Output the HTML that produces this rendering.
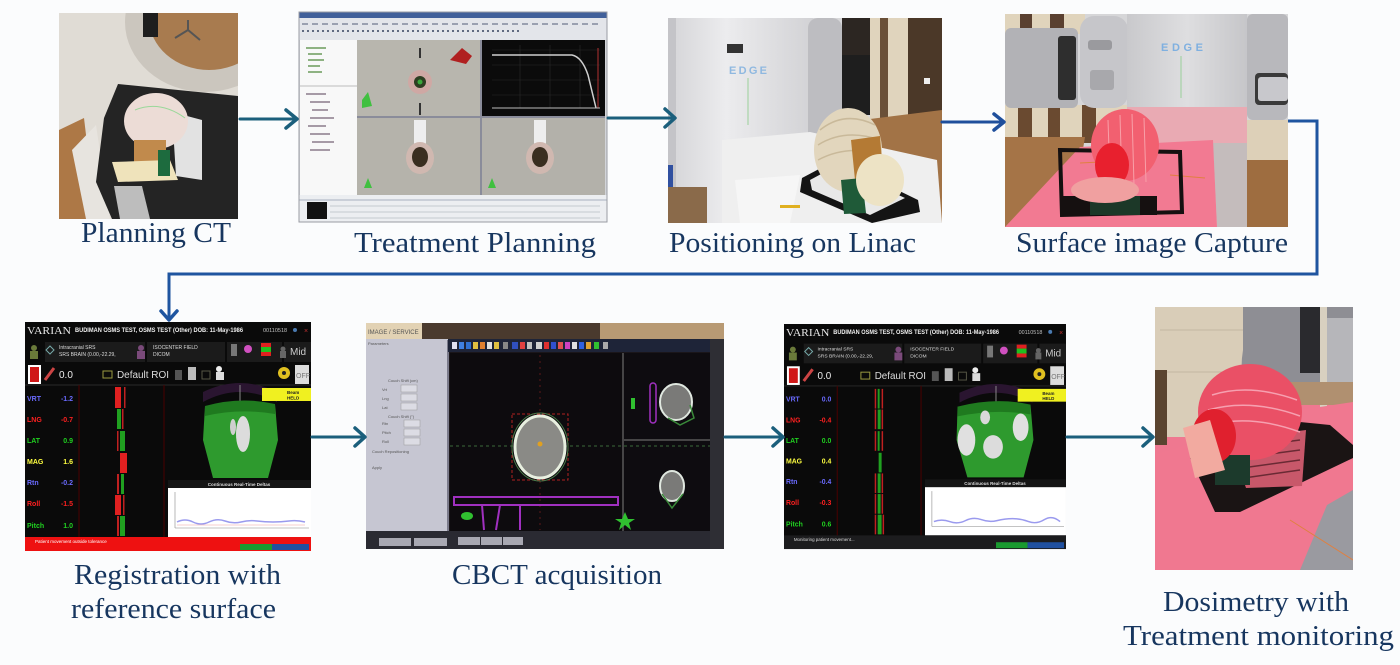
<!DOCTYPE html>
<html><head><meta charset="utf-8"><style>
html,body{margin:0;padding:0;background:#fbfcfd;}
svg{display:block;}
</style></head><body>
<svg width="1400" height="665" viewBox="0 0 1400 665" xmlns="http://www.w3.org/2000/svg">
<defs>
<clipPath id="c1"><rect x="59" y="13" width="179" height="206"/></clipPath>
<clipPath id="c2"><rect x="299" y="12" width="308" height="210"/></clipPath>
<clipPath id="c3"><rect x="668" y="18" width="274" height="205"/></clipPath>
<clipPath id="c4"><rect x="1005" y="14" width="283" height="213"/></clipPath>
<clipPath id="c5"><rect x="0" y="0" width="286" height="229"/></clipPath>
<clipPath id="c6"><rect x="366" y="323" width="358" height="226"/></clipPath>
<clipPath id="c8"><rect x="1155" y="307" width="198" height="263"/></clipPath>
<linearGradient id="g3" x1="0" x2="1" y1="0" y2="0"><stop offset="0" stop-color="#d4d4d7"/><stop offset="0.4" stop-color="#ececee"/><stop offset="1" stop-color="#d2d2d5"/></linearGradient>
<linearGradient id="g4" x1="0" x2="1" y1="0" y2="0"><stop offset="0" stop-color="#c9c9cc"/><stop offset="0.5" stop-color="#dedee0"/><stop offset="1" stop-color="#c6c6c9"/></linearGradient>
</defs>
<rect width="1400" height="665" fill="#fbfcfd"/>

<!-- ============ IMAGE 1: Planning CT ============ -->
<g clip-path="url(#c1)">
<rect x="59" y="13" width="179" height="206" fill="#e0dcd5"/>
<ellipse cx="205" cy="22" rx="80" ry="70" fill="#cbc6be"/>
<ellipse cx="209" cy="18" rx="60" ry="52" fill="#a87b4f"/>
<rect x="143" y="13" width="15" height="24" fill="#1e1e1e"/>
<path d="M175 38 L188 30 L200 40 M188 30 L188 20" stroke="#555" stroke-width="2" fill="none"/>
<polygon points="59,130 84,118 96,219 59,219" fill="#ad7846"/>
<polygon points="72,150 96,125 110,219 86,219" fill="#e7e4df"/>
<polygon points="118,84 238,96 238,219 112,219 96,182 104,118" fill="#242424"/>
<polygon points="114,186 142,186 150,219 120,219" fill="#bdbdbd"/>
<polygon points="172,112 202,120 202,180 176,176" fill="#e2e2e2"/>
<ellipse cx="156" cy="121" rx="32" ry="28" fill="#ecdcd6"/>
<path d="M135 110 Q160 100 185 118" stroke="#9ad89a" stroke-width="1" fill="none"/>
<rect x="134" y="140" width="32" height="25" fill="#c18a4c"/>
<polygon points="112,162 170,160 178,180 118,182" fill="#efe3bb"/>
<rect x="158" y="150" width="12" height="26" fill="#1d6b3e"/>
</g>

<!-- ============ IMAGE 2: Treatment Planning ============ -->
<g clip-path="url(#c2)">
<rect x="299" y="12" width="308" height="210" fill="#d2d4d8"/>
<rect x="299" y="12" width="308" height="6" fill="#41609a"/>
<rect x="299" y="18" width="308" height="22" fill="#e3e5ea"/>
<line x1="302" y1="24" x2="600" y2="24" stroke="#9aa0b0" stroke-width="2" stroke-dasharray="6 4"/>
<line x1="302" y1="31" x2="520" y2="31" stroke="#606a80" stroke-width="2" stroke-dasharray="2 3"/>
<rect x="300" y="40" width="57" height="155" fill="#f8f8f8"/>
<line x1="300" y1="86" x2="357" y2="86" stroke="#bbb"/>
<g stroke="#6a9a5a" stroke-width="1.5">
<line x1="306" y1="48" x2="326" y2="48"/><line x1="308" y1="54" x2="322" y2="54"/><line x1="308" y1="60" x2="324" y2="60"/><line x1="308" y1="66" x2="320" y2="66"/><line x1="308" y1="72" x2="322" y2="72"/>
</g>
<g stroke="#8a7a8a" stroke-width="1.5">
<line x1="306" y1="94" x2="326" y2="94"/><line x1="310" y1="102" x2="330" y2="102"/><line x1="312" y1="110" x2="328" y2="110"/><line x1="310" y1="118" x2="334" y2="118"/><line x1="308" y1="126" x2="326" y2="126"/><line x1="310" y1="134" x2="330" y2="134"/><line x1="312" y1="142" x2="334" y2="142"/><line x1="310" y1="150" x2="330" y2="150"/>
</g>
<rect x="357" y="40" width="124" height="77" fill="#b8b6ae"/>
<rect x="481" y="40" width="124" height="77" fill="#0b0b0b"/>
<rect x="357" y="117" width="124" height="78" fill="#b5b3ab"/>
<rect x="481" y="117" width="124" height="78" fill="#b3b1aa"/>
<line x1="357" y1="117" x2="605" y2="117" stroke="#8a8c9a" stroke-width="2"/>
<line x1="481" y1="40" x2="481" y2="195" stroke="#8a8c9a" stroke-width="2"/>
<circle cx="420" cy="82" r="12" fill="#cfa8a4"/>
<circle cx="420" cy="82" r="6" fill="#2e3e22"/>
<circle cx="420" cy="82" r="2.5" fill="#3aa83a"/>
<polygon points="450,60 462,48 472,56 466,64" fill="#b02020"/>
<polygon points="362,100 368,92 372,106 362,108" fill="#40c040"/>
<line x1="420" y1="48" x2="420" y2="58" stroke="#333" stroke-width="2"/>
<line x1="420" y1="103" x2="420" y2="115" stroke="#333" stroke-width="2"/>
<g stroke="#2a2a2a" stroke-width="0.6">
<line x1="492" y1="50" x2="600" y2="50"/><line x1="492" y1="65" x2="600" y2="65"/><line x1="492" y1="80" x2="600" y2="80"/><line x1="492" y1="95" x2="600" y2="95"/>
<line x1="520" y1="45" x2="520" y2="108"/><line x1="550" y1="45" x2="550" y2="108"/><line x1="580" y1="45" x2="580" y2="108"/>
</g>
<path d="M492 55 L572 55 Q582 57 588 75 L596 108" stroke="#cfcfcf" stroke-width="1.5" fill="none"/>
<line x1="598" y1="48" x2="598" y2="108" stroke="#b03030" stroke-width="1"/>
<line x1="492" y1="108" x2="600" y2="108" stroke="#bbb" stroke-width="1"/>
<rect x="414" y="120" width="12" height="28" fill="#eee"/>
<ellipse cx="420" cy="158" rx="14" ry="16" fill="#d0b8b0"/>
<ellipse cx="420" cy="157" rx="8" ry="10" fill="#3a2e20"/>
<rect x="534" y="120" width="12" height="28" fill="#eee"/>
<ellipse cx="540" cy="158" rx="14" ry="16" fill="#d0b8b0"/>
<ellipse cx="540" cy="157" rx="8" ry="10" fill="#3a2e20"/>
<polygon points="364,188 368,178 372,188" fill="#40c040"/>
<polygon points="488,188 492,178 496,188" fill="#40c040"/>
<rect x="299" y="195" width="308" height="27" fill="#eceef1"/>
<line x1="299" y1="200" x2="607" y2="200" stroke="#a8b0c0"/>
<g stroke="#b8bcc4" stroke-width="0.7">
<line x1="330" y1="206" x2="600" y2="206"/><line x1="330" y1="212" x2="600" y2="212"/><line x1="330" y1="218" x2="600" y2="218"/>
</g>
<rect x="307" y="202" width="20" height="17" fill="#111"/>
</g>
<rect x="299" y="12" width="308" height="210" fill="none" stroke="#9a9ca4" stroke-width="1"/>

<!-- ============ IMAGE 3: Positioning on Linac ============ -->
<g clip-path="url(#c3)">
<rect x="668" y="18" width="274" height="205" fill="#d8d8da"/>
<rect x="668" y="18" width="145" height="205" fill="url(#g3)"/>
<rect x="668" y="18" width="8" height="205" fill="#c4c4c8"/>
<rect x="668" y="165" width="5" height="40" fill="#3050a0"/>
<rect x="727" y="44" width="16" height="9" fill="#333"/>
<text x="729" y="74" font-family="Liberation Sans, sans-serif" font-size="11" font-weight="bold" fill="#8fb8e0" textLength="38">EDGE</text>
<line x1="748" y1="78" x2="748" y2="125" stroke="#9ad09a" stroke-width="1"/>
<rect x="808" y="18" width="34" height="130" rx="10" fill="#bdbdc1"/>
<rect x="842" y="18" width="30" height="95" fill="#2c2622"/>
<rect x="842" y="55" width="28" height="60" fill="#1e1e1e"/>
<rect x="870" y="18" width="38" height="115" fill="#e0d4bd"/>
<rect x="880" y="18" width="8" height="115" fill="#6a5038"/>
<rect x="908" y="18" width="34" height="135" fill="#4b3828"/>
<rect x="924" y="78" width="6" height="6" fill="#eee"/>
<polygon points="862,120 942,110 942,223 880,223" fill="#a27346"/>
<polygon points="668,187 707,187 707,223 668,223" fill="#8a6a4a"/>
<polygon points="722,140 810,132 937,160 942,223 722,223" fill="#efefef"/>
<polygon points="735,180 800,175 790,223 740,223" fill="#f6f6f6"/>
<polygon points="802,178 836,160 918,200 920,212 872,223 800,192" fill="#141414"/>
<polygon points="810,180 836,166 905,198 870,215 812,190" fill="#e8e8e8"/>
<ellipse cx="848" cy="150" rx="34" ry="42" fill="#e2d6bd"/>
<path d="M820 130 Q845 110 875 125 M818 145 Q845 128 880 140 M818 160 Q848 144 882 155" stroke="#c9b99a" stroke-width="1.5" fill="none"/>
<polygon points="851,140 880,136 884,187 856,190" fill="#b47a34"/>
<polygon points="841,180 862,178 866,213 844,214" fill="#1f5a38"/>
<ellipse cx="880" cy="180" rx="24" ry="26" fill="#ede3c5"/>
<rect x="780" y="205" width="20" height="3" fill="#e0b020"/>
</g>

<!-- ============ IMAGE 4: Surface image Capture ============ -->
<g clip-path="url(#c4)">
<rect x="1005" y="14" width="283" height="213" fill="#d6d6d8"/>
<rect x="1005" y="14" width="80" height="20" fill="#e0d4bc"/>
<rect x="1020" y="14" width="12" height="20" fill="#5a4030"/>
<rect x="1050" y="14" width="14" height="20" fill="#5a4030"/>
<rect x="1005" y="105" width="125" height="38" fill="#e0d4bc"/>
<rect x="1018" y="105" width="14" height="38" fill="#6a4a30"/>
<rect x="1048" y="105" width="12" height="38" fill="#6a4a30"/>
<rect x="1082" y="105" width="14" height="38" fill="#6a4a30"/>
<rect x="1005" y="28" width="73" height="80" rx="6" fill="#b2b2b6"/>
<rect x="1058" y="36" width="18" height="64" rx="3" fill="#2e2e2e"/>
<rect x="1080" y="16" width="48" height="92" rx="14" fill="#c6c6ca"/>
<rect x="1088" y="40" width="24" height="10" rx="3" fill="#9a9a9e"/>
<rect x="1090" y="70" width="24" height="20" rx="3" fill="#a8a8ac"/>
<rect x="1127" y="14" width="120" height="213" fill="url(#g4)"/>
<text x="1161" y="51" font-family="Liberation Sans, sans-serif" font-size="11" font-weight="bold" fill="#7fb0e0" textLength="42">EDGE</text>
<line x1="1181" y1="56" x2="1181" y2="98" stroke="#9ad09a" stroke-width="1"/>
<rect x="1247" y="14" width="41" height="106" rx="6" fill="#b8b8bc"/>
<rect x="1255" y="73" width="33" height="32" rx="4" fill="#3a3a3a"/>
<rect x="1258" y="77" width="30" height="24" rx="3" fill="#c8c8cc"/>
<rect x="1247" y="120" width="41" height="47" fill="#ddd0b8"/>
<rect x="1127" y="107" width="120" height="43" fill="#e9aab3"/>
<polygon points="1005,137 1085,137 1070,227 1005,227" fill="#a57447"/>
<polygon points="1223,160 1288,160 1288,227 1223,227" fill="#9e6d40"/>
<polygon points="1213,143 1247,143 1247,227 1217,227" fill="#c4bcbc"/>
<polygon points="1080,147 1213,140 1217,227 1005,227" fill="#f27a92"/>
<line x1="1080" y1="163" x2="1100" y2="162" stroke="#e08040" stroke-width="1"/>
<line x1="1170" y1="175" x2="1205" y2="178" stroke="#e08040" stroke-width="1"/>
<polygon points="1060,150 1180,152 1182,212 1062,215" fill="none" stroke="#151010" stroke-width="4"/>
<rect x="1060" y="196" width="97" height="19" fill="#151010"/>
<rect x="1090" y="196" width="50" height="19" fill="#1c3828"/>
<ellipse cx="1125" cy="145" rx="34" ry="36" fill="#f26070"/>
<path d="M1108 120 L1110 180 M1120 115 L1122 185 M1132 114 L1134 185 M1144 118 L1146 182" stroke="#f8a0a8" stroke-width="1" fill="none"/>
<ellipse cx="1112" cy="165" rx="17" ry="22" fill="#e8202e"/>
<ellipse cx="1105" cy="190" rx="34" ry="13" fill="#f0a0a0"/>
</g>

<!-- ============ IMAGE 5: Registration ============ -->
<g transform="translate(25,322)">
<g clip-path="url(#c5)">
<rect width="286" height="229" fill="#0a0a0a"/>
<text x="2" y="12" font-family="Liberation Serif, serif" font-size="11" fill="#e8e8e8" textLength="44" lengthAdjust="spacingAndGlyphs">VARIAN</text>
<text x="50" y="10" font-family="Liberation Sans, sans-serif" font-weight="bold" font-size="6.2" fill="#f0f0f0" textLength="168" lengthAdjust="spacingAndGlyphs">BUDIMAN OSMS TEST, OSMS TEST (Other) DOB: 11-May-1986</text>
<text x="238" y="10" font-family="Liberation Sans, sans-serif" font-size="5.5" fill="#c0c0c0">00110518</text>
<circle cx="270" cy="8" r="2" fill="#4a7ab0"/>
<text x="279" y="11" font-family="Liberation Sans, sans-serif" font-size="7" fill="#c03030">×</text>
<rect x="20" y="20" width="100" height="20" fill="#1b1b1b"/>
<rect x="122" y="20" width="78" height="20" fill="#1b1b1b"/>
<rect x="202" y="20" width="55" height="20" fill="#1b1b1b"/>
<rect x="259" y="20" width="27" height="20" fill="#1b1b1b"/>
<circle cx="9" cy="26" r="3" fill="#6a7a3a"/><rect x="5" y="29" width="8" height="8" fill="#6a7a3a"/>
<polygon points="25,24 29,28 25,32 21,28" fill="none" stroke="#7aa" stroke-width="1"/>
<text x="34" y="27" font-family="Liberation Sans, sans-serif" font-size="5" fill="#ddd">Intracranial SRS</text>
<text x="34" y="34" font-family="Liberation Sans, sans-serif" font-size="5" fill="#ddd">SRS BRAIN (0.00,-22.29,</text>
<circle cx="116" cy="26" r="3" fill="#7a4a7a"/><rect x="112" y="29" width="8" height="8" fill="#7a4a7a"/>
<text x="128" y="27" font-family="Liberation Sans, sans-serif" font-size="5" fill="#ddd">ISOCENTER FIELD</text>
<text x="128" y="34" font-family="Liberation Sans, sans-serif" font-size="5" fill="#ddd">DICOM</text>
<rect x="206" y="22" width="6" height="12" fill="#777"/>
<circle cx="223" cy="27" r="4" fill="#d050c0"/>
<rect x="236" y="21" width="10" height="4" fill="#e02020"/><rect x="236" y="25" width="10" height="5" fill="#20c020"/><rect x="236" y="30" width="10" height="4" fill="#e02020"/>
<circle cx="258" cy="27" r="2.5" fill="#666"/><rect x="255" y="29" width="6" height="7" fill="#666"/>
<text x="265" y="33" font-family="Liberation Sans, sans-serif" font-size="10" fill="#ccc">Mid</text>
<rect x="3" y="43" width="13" height="19" fill="#fff"/><rect x="5" y="45" width="9" height="15" fill="#d01818"/>
<line x1="20" y1="58" x2="29" y2="46" stroke="#c44" stroke-width="3"/>
<text x="34" y="56" font-family="Liberation Sans, sans-serif" font-size="10" fill="#eee">0.0</text>
<rect x="78" y="49" width="9" height="7" fill="none" stroke="#9a9a40"/>
<text x="92" y="56" font-family="Liberation Sans, sans-serif" font-size="10" fill="#ddd" textLength="52" lengthAdjust="spacingAndGlyphs">Default ROI</text>
<rect x="150" y="48" width="7" height="10" fill="#555"/>
<rect x="163" y="45" width="8" height="13" fill="#bbb"/>
<rect x="177" y="49" width="8" height="8" fill="none" stroke="#554" />
<circle cx="194" cy="47" r="3" fill="#eee"/><rect x="191" y="50" width="8" height="8" fill="#ddd"/>
<circle cx="259" cy="51" r="6" fill="#e0c020"/><circle cx="259" cy="51" r="2" fill="#222"/>
<rect x="270" y="43" width="14" height="19" fill="#ddd"/>
<text x="271" y="56" font-family="Liberation Sans, sans-serif" font-size="7" fill="#777">OFF</text>
<line x1="0" y1="63" x2="286" y2="63" stroke="#2a2a2a"/>
<line x1="54" y1="63" x2="54" y2="215" stroke="#4a0000"/>
<line x1="139" y1="63" x2="139" y2="215" stroke="#4a0000"/>
<g font-family="Liberation Sans, sans-serif" font-size="7" font-weight="bold">
<text x="2" y="79" fill="#6a6aff">VRT</text><text x="48" y="79" fill="#6a6aff" text-anchor="end">-1.2</text>
<text x="2" y="100" fill="#ff2020">LNG</text><text x="48" y="100" fill="#ff2020" text-anchor="end">-0.7</text>
<text x="2" y="121" fill="#20d020">LAT</text><text x="48" y="121" fill="#20d020" text-anchor="end">0.9</text>
<text x="2" y="142" fill="#ffff40">MAG</text><text x="48" y="142" fill="#ffff40" text-anchor="end">1.6</text>
<text x="2" y="163" fill="#6a6aff">Rtn</text><text x="48" y="163" fill="#6a6aff" text-anchor="end">-0.2</text>
<text x="2" y="184" fill="#ff2020">Roll</text><text x="48" y="184" fill="#ff2020" text-anchor="end">-1.5</text>
<text x="2" y="206" fill="#20d020">Pitch</text><text x="48" y="206" fill="#20d020" text-anchor="end">1.0</text>
</g>
<rect x="90" y="65" width="6" height="21" fill="#e02020"/><rect x="99" y="65" width="1.5" height="21" fill="#c02020"/>
<rect x="92" y="87" width="4" height="20" fill="#20a020"/><rect x="97" y="87" width="1.5" height="20" fill="#c02020"/>
<rect x="95" y="109" width="5" height="20" fill="#20a020"/><rect x="92" y="109" width="1.5" height="20" fill="#c02020"/>
<rect x="95" y="131" width="7" height="20" fill="#e02020"/>
<rect x="92" y="152" width="2" height="20" fill="#c02020"/><rect x="96" y="152" width="3" height="20" fill="#20a020"/>
<rect x="90" y="173" width="6" height="20" fill="#e02020"/><rect x="98" y="173" width="1.5" height="20" fill="#c02020"/>
<rect x="92" y="194" width="2" height="20" fill="#c02020"/><rect x="95" y="194" width="5" height="20" fill="#20a020"/>
<path d="M178 80 Q215 60 252 80 L252 70 Q215 52 178 70 Z" fill="#2a1530"/>
<line x1="215" y1="63" x2="215" y2="88" stroke="#888" stroke-width="1"/>
<polygon points="180,84 250,82 253,118 243,156 188,156 178,118" fill="#2e9a2e"/>
<path d="M180 84 Q215 74 250 82 L250 92 Q215 86 180 94 Z" fill="#1f7a1f"/>
<ellipse cx="218" cy="112" rx="7" ry="18" fill="#dcdcdc"/>
<ellipse cx="208" cy="105" rx="3" ry="8" fill="#cfcfcf"/>
<rect x="237" y="66" width="49" height="13" fill="#f0f020"/>
<text x="262" y="72" font-family="Liberation Sans, sans-serif" font-size="4.5" font-weight="bold" fill="#222">Beam</text>
<text x="262" y="77.5" font-family="Liberation Sans, sans-serif" font-size="4.5" font-weight="bold" fill="#222">HELD</text>
<rect x="143" y="158" width="143" height="8" fill="#151515"/>
<text x="214" y="164" font-family="Liberation Sans, sans-serif" font-size="4.5" font-weight="bold" fill="#ddd" text-anchor="middle">Continuous Real-Time Deltas</text>
<rect x="143" y="166" width="143" height="49" fill="#ffffff"/>
<line x1="150" y1="170" x2="150" y2="206" stroke="#888" stroke-width="0.6"/>
<line x1="150" y1="206" x2="284" y2="206" stroke="#888" stroke-width="0.6"/>
<path d="M152 200 Q160 196 168 200 T184 200 T200 199 T216 200 T232 199 T248 200 T264 199 T280 200" stroke="#9a9aee" stroke-width="1.5" fill="none"/>
<line x1="152" y1="203" x2="280" y2="203" stroke="#f0a0a0" stroke-width="0.6"/>
<rect x="0" y="215" width="286" height="14" fill="#ee1111"/>
<text x="10" y="221" font-family="Liberation Sans, sans-serif" font-size="4.5" fill="#fff">Patient movement outside tolerance</text>
<rect x="215" y="222" width="32" height="6" fill="#1a9a30"/>
<rect x="247" y="222" width="37" height="6" fill="#2050a0"/>
</g>
</g>

<!-- ============ IMAGE 6: CBCT ============ -->
<g clip-path="url(#c6)">
<rect x="366" y="323" width="358" height="226" fill="#1a161a"/>
<rect x="366" y="323" width="358" height="16" fill="#4a3a2e"/>
<rect x="366" y="323" width="56" height="16" fill="#e2d2b4"/>
<text x="368" y="334" font-family="Liberation Sans, sans-serif" font-size="6" fill="#555">IMAGE / SERVICE</text>
<rect x="600" y="323" width="124" height="20" fill="#b89a74"/>
<rect x="366" y="339" width="82" height="192" fill="#c6c6d2"/>
<line x1="448" y1="340" x2="448" y2="531" stroke="#7a7a8a" stroke-width="2"/>
<g font-family="Liberation Sans, sans-serif" font-size="4" fill="#555">
<text x="368" y="345">Parameters</text>
<text x="388" y="382">Couch Shift (cm)</text>
<text x="382" y="391">Vrt</text><text x="382" y="400">Lng</text><text x="382" y="409">Lat</text>
<text x="388" y="418">Couch Shift (°)</text>
<text x="382" y="425">Rtn</text><text x="382" y="434">Pitch</text><text x="382" y="443">Roll</text>
<text x="372" y="453">Couch Repositioning</text>
<text x="372" y="469">Apply</text>
</g>
<g fill="#dcdce4" stroke="#999" stroke-width="0.5">
<rect x="401" y="385" width="16" height="7"/><rect x="401" y="394" width="16" height="7"/><rect x="401" y="403" width="16" height="7"/>
<rect x="404" y="420" width="16" height="7"/><rect x="404" y="429" width="16" height="7"/><rect x="404" y="438" width="16" height="7"/>
</g>
<rect x="448" y="339" width="276" height="13" fill="#1e2438"/>
<g>
<rect x="452" y="342" width="5" height="7" fill="#e0e0f0"/><rect x="459" y="342" width="5" height="7" fill="#4080e0"/><rect x="466" y="342" width="5" height="7" fill="#3070d0"/>
<rect x="473" y="342" width="5" height="7" fill="#e0c040"/><rect x="480" y="342" width="5" height="7" fill="#e08030"/><rect x="487" y="342" width="5" height="7" fill="#e0e0e0"/>
<rect x="494" y="342" width="5" height="7" fill="#e0c040"/><rect x="503" y="342" width="5" height="7" fill="#888"/><rect x="512" y="342" width="6" height="7" fill="#3050c0"/>
<rect x="520" y="342" width="5" height="7" fill="#e04040"/><rect x="527" y="342" width="5" height="7" fill="#c0c0c0"/><rect x="536" y="342" width="6" height="7" fill="#d0d0d0"/>
<rect x="544" y="342" width="5" height="7" fill="#e03030"/><rect x="551" y="342" width="5" height="7" fill="#3050d0"/><rect x="558" y="342" width="5" height="7" fill="#e05050"/>
<rect x="565" y="342" width="5" height="7" fill="#d040c0"/><rect x="572" y="342" width="5" height="7" fill="#e0e0e0"/><rect x="579" y="342" width="5" height="7" fill="#3060e0"/>
<rect x="586" y="342" width="5" height="7" fill="#e0a030"/><rect x="594" y="342" width="5" height="7" fill="#30c030"/><rect x="603" y="342" width="5" height="7" fill="#aaa"/>
</g>
<rect x="450" y="353" width="172" height="178" fill="#0d0b0e"/>
<rect x="624" y="353" width="100" height="86" fill="#0e0c10"/>
<rect x="624" y="441" width="100" height="90" fill="#0e0c10"/>
<line x1="623" y1="353" x2="623" y2="531" stroke="#555" stroke-width="1.5"/>
<line x1="624" y1="440" x2="724" y2="440" stroke="#555" stroke-width="1.5"/>
<line x1="450" y1="446" x2="724" y2="446" stroke="#3a6a3a" stroke-width="1" stroke-dasharray="3 3"/>
<line x1="540" y1="355" x2="540" y2="530" stroke="#5a1a1a" stroke-width="1" stroke-dasharray="2 4"/>
<rect x="512" y="414" width="56" height="66" fill="none" stroke="#b02020" stroke-width="1" stroke-dasharray="3 2"/>
<ellipse cx="540" cy="447" rx="25" ry="31" fill="#8a8a86" stroke="#e8f0e0" stroke-width="3"/>
<ellipse cx="540" cy="447" rx="28" ry="34" fill="none" stroke="#4a7a4a" stroke-width="1"/>
<circle cx="540" cy="444" r="2.5" fill="#e0a020"/>
<rect x="454" y="497" width="164" height="8" fill="none" stroke="#a030c0" stroke-width="2"/>
<path d="M482 505 L484 530 M500 505 L496 530 M520 505 L520 530" stroke="#a030c0" stroke-width="2" fill="none"/>
<ellipse cx="467" cy="516" rx="6" ry="4" fill="#30c030"/>
<rect x="650" y="383" width="6" height="40" rx="3" fill="none" stroke="#a030c0" stroke-width="1.5"/>
<ellipse cx="676" cy="402" rx="16" ry="18" fill="#7a7a78" stroke="#e0e8e0" stroke-width="2"/>
<path d="M668 418 L680 425 L694 418 L690 405" stroke="#3a8a3a" stroke-width="1.5" fill="none"/>
<ellipse cx="672" cy="486" rx="12" ry="15" fill="#7a7a78" stroke="#e0e8e0" stroke-width="2"/>
<path d="M662 494 L672 508 L683 494" stroke="#3a8a3a" stroke-width="1.5" fill="none"/>
<rect x="631" y="398" width="4" height="11" fill="#30c030"/>
<polygon points="625,512 628,519 635,519 629,523 631,530 625,525 619,530 621,523 615,519 622,519" fill="#30c030"/>
<rect x="366" y="531" width="358" height="18" fill="#2a2a32"/>
<g fill="#a8a8b2">
<rect x="379" y="538" width="32" height="8"/><rect x="414" y="538" width="33" height="8"/>
<rect x="458" y="537" width="22" height="8"/><rect x="481" y="537" width="21" height="8"/><rect x="503" y="537" width="20" height="8"/>
</g>
<rect x="710" y="339" width="14" height="210" fill="#2e2e34"/>
</g>

<!-- ============ IMAGE 7: Monitoring screen ============ -->
<g transform="translate(784,324) scale(0.986,0.983)">
<g clip-path="url(#c5)">
<rect width="286" height="229" fill="#0a0a0a"/>
<text x="2" y="12" font-family="Liberation Serif, serif" font-size="11" fill="#e8e8e8" textLength="44" lengthAdjust="spacingAndGlyphs">VARIAN</text>
<text x="50" y="10" font-family="Liberation Sans, sans-serif" font-weight="bold" font-size="6.2" fill="#f0f0f0" textLength="168" lengthAdjust="spacingAndGlyphs">BUDIMAN OSMS TEST, OSMS TEST (Other) DOB: 11-May-1986</text>
<text x="238" y="10" font-family="Liberation Sans, sans-serif" font-size="5.5" fill="#c0c0c0">00110518</text>
<circle cx="270" cy="8" r="2" fill="#4a7ab0"/>
<text x="279" y="11" font-family="Liberation Sans, sans-serif" font-size="7" fill="#c03030">×</text>
<rect x="20" y="20" width="100" height="20" fill="#1b1b1b"/>
<rect x="122" y="20" width="78" height="20" fill="#1b1b1b"/>
<rect x="202" y="20" width="55" height="20" fill="#1b1b1b"/>
<rect x="259" y="20" width="27" height="20" fill="#1b1b1b"/>
<circle cx="9" cy="26" r="3" fill="#6a7a3a"/><rect x="5" y="29" width="8" height="8" fill="#6a7a3a"/>
<polygon points="25,24 29,28 25,32 21,28" fill="none" stroke="#7aa" stroke-width="1"/>
<text x="34" y="27" font-family="Liberation Sans, sans-serif" font-size="5" fill="#ddd">Intracranial SRS</text>
<text x="34" y="34" font-family="Liberation Sans, sans-serif" font-size="5" fill="#ddd">SRS BRAIN (0.00,-22.29,</text>
<circle cx="116" cy="26" r="3" fill="#7a4a7a"/><rect x="112" y="29" width="8" height="8" fill="#7a4a7a"/>
<text x="128" y="27" font-family="Liberation Sans, sans-serif" font-size="5" fill="#ddd">ISOCENTER FIELD</text>
<text x="128" y="34" font-family="Liberation Sans, sans-serif" font-size="5" fill="#ddd">DICOM</text>
<rect x="206" y="22" width="6" height="12" fill="#777"/>
<circle cx="223" cy="27" r="4" fill="#d050c0"/>
<rect x="236" y="21" width="10" height="4" fill="#e02020"/><rect x="236" y="25" width="10" height="5" fill="#20c020"/><rect x="236" y="30" width="10" height="4" fill="#e02020"/>
<circle cx="258" cy="27" r="2.5" fill="#666"/><rect x="255" y="29" width="6" height="7" fill="#666"/>
<text x="265" y="33" font-family="Liberation Sans, sans-serif" font-size="10" fill="#ccc">Mid</text>
<rect x="3" y="43" width="13" height="19" fill="#fff"/><rect x="5" y="45" width="9" height="15" fill="#d01818"/>
<line x1="20" y1="58" x2="29" y2="46" stroke="#c44" stroke-width="3"/>
<text x="34" y="56" font-family="Liberation Sans, sans-serif" font-size="10" fill="#eee">0.0</text>
<rect x="78" y="49" width="9" height="7" fill="none" stroke="#9a9a40"/>
<text x="92" y="56" font-family="Liberation Sans, sans-serif" font-size="10" fill="#ddd" textLength="52" lengthAdjust="spacingAndGlyphs">Default ROI</text>
<rect x="150" y="48" width="7" height="10" fill="#555"/>
<rect x="163" y="45" width="8" height="13" fill="#bbb"/>
<rect x="177" y="49" width="8" height="8" fill="none" stroke="#554" />
<circle cx="194" cy="47" r="3" fill="#eee"/><rect x="191" y="50" width="8" height="8" fill="#ddd"/>
<circle cx="259" cy="51" r="6" fill="#e0c020"/><circle cx="259" cy="51" r="2" fill="#222"/>
<rect x="270" y="43" width="14" height="19" fill="#ddd"/>
<text x="271" y="56" font-family="Liberation Sans, sans-serif" font-size="7" fill="#777">OFF</text>
<line x1="0" y1="63" x2="286" y2="63" stroke="#2a2a2a"/>
<line x1="54" y1="63" x2="54" y2="215" stroke="#4a0000"/>
<line x1="139" y1="63" x2="139" y2="215" stroke="#4a0000"/>
<g font-family="Liberation Sans, sans-serif" font-size="7" font-weight="bold">
<text x="2" y="79" fill="#6a6aff">VRT</text><text x="48" y="79" fill="#6a6aff" text-anchor="end">0.0</text>
<text x="2" y="100" fill="#ff2020">LNG</text><text x="48" y="100" fill="#ff2020" text-anchor="end">-0.4</text>
<text x="2" y="121" fill="#20d020">LAT</text><text x="48" y="121" fill="#20d020" text-anchor="end">0.0</text>
<text x="2" y="142" fill="#ffff40">MAG</text><text x="48" y="142" fill="#ffff40" text-anchor="end">0.4</text>
<text x="2" y="163" fill="#6a6aff">Rtn</text><text x="48" y="163" fill="#6a6aff" text-anchor="end">-0.4</text>
<text x="2" y="184" fill="#ff2020">Roll</text><text x="48" y="184" fill="#ff2020" text-anchor="end">-0.3</text>
<text x="2" y="206" fill="#20d020">Pitch</text><text x="48" y="206" fill="#20d020" text-anchor="end">0.6</text>
</g>
<g>
<rect x="92" y="66" width="1.5" height="20" fill="#c02020"/><rect x="95" y="66" width="2" height="20" fill="#20a020"/><rect x="99" y="66" width="1.5" height="20" fill="#c02020"/>
<rect x="92" y="87" width="1.5" height="20" fill="#c02020"/><rect x="95" y="87" width="3" height="20" fill="#20a020"/><rect x="99" y="87" width="1.5" height="20" fill="#c02020"/>
<rect x="92" y="109" width="1.5" height="20" fill="#c02020"/><rect x="95" y="109" width="2" height="20" fill="#20a020"/><rect x="99" y="109" width="1.5" height="20" fill="#c02020"/>
<rect x="96" y="131" width="3" height="20" fill="#20a020"/>
<rect x="92" y="152" width="1.5" height="20" fill="#c02020"/><rect x="95" y="152" width="3" height="20" fill="#20a020"/><rect x="99" y="152" width="1.5" height="20" fill="#c02020"/>
<rect x="92" y="173" width="1.5" height="20" fill="#c02020"/><rect x="95" y="173" width="3" height="20" fill="#20a020"/><rect x="99" y="173" width="1.5" height="20" fill="#c02020"/>
<rect x="92" y="194" width="1.5" height="20" fill="#c02020"/><rect x="95" y="194" width="4" height="20" fill="#20a020"/><rect x="100" y="194" width="1.5" height="20" fill="#c02020"/>
</g>
<path d="M178 80 Q215 60 252 80 L252 70 Q215 52 178 70 Z" fill="#2a1530"/>
<line x1="215" y1="63" x2="215" y2="88" stroke="#888" stroke-width="1"/>
<polygon points="176,84 250,82 253,118 243,156 186,156 175,118" fill="#2e9a2e"/>
<path d="M176 84 Q215 74 250 82 L250 92 Q215 86 176 94 Z" fill="#1f7a1f"/>
<ellipse cx="185" cy="118" rx="9" ry="16" fill="#e0e0e0"/>
<ellipse cx="240" cy="105" rx="8" ry="14" fill="#e0e0e0"/>
<ellipse cx="212" cy="125" rx="10" ry="12" fill="#dcdcdc"/>
<ellipse cx="204" cy="95" rx="5" ry="7" fill="#d8d8d8"/>
<rect x="237" y="66" width="49" height="13" fill="#f0f020"/>
<text x="262" y="72" font-family="Liberation Sans, sans-serif" font-size="4.5" font-weight="bold" fill="#222">Beam</text>
<text x="262" y="77.5" font-family="Liberation Sans, sans-serif" font-size="4.5" font-weight="bold" fill="#222">HELD</text>
<rect x="143" y="158" width="143" height="8" fill="#151515"/>
<text x="214" y="164" font-family="Liberation Sans, sans-serif" font-size="4.5" font-weight="bold" fill="#ddd" text-anchor="middle">Continuous Real-Time Deltas</text>
<rect x="143" y="166" width="143" height="49" fill="#ffffff"/>
<line x1="150" y1="170" x2="150" y2="206" stroke="#888" stroke-width="0.6"/>
<line x1="150" y1="206" x2="284" y2="206" stroke="#888" stroke-width="0.6"/>
<path d="M152 201 Q160 198 168 201 T184 200 T200 199 T216 200 T232 198 T248 201 T264 199 T280 201" stroke="#9a9aee" stroke-width="1.5" fill="none"/>
<rect x="0" y="215" width="286" height="14" fill="#1c1c1e"/>
<text x="10" y="221" font-family="Liberation Sans, sans-serif" font-size="4.5" fill="#ddd">Monitoring patient movement...</text>
<rect x="215" y="222" width="32" height="6" fill="#1a9a30"/>
<rect x="247" y="222" width="37" height="6" fill="#2050a0"/>
</g>
</g>

<!-- ============ IMAGE 8: Dosimetry ============ -->
<g clip-path="url(#c8)">
<rect x="1155" y="307" width="198" height="263" fill="#ef7890"/>
<rect x="1155" y="307" width="92" height="130" fill="#d9cdb8"/>
<line x1="1160" y1="330" x2="1245" y2="330" stroke="#c4b8a2" stroke-width="1"/>
<line x1="1160" y1="372" x2="1245" y2="372" stroke="#c4b8a2" stroke-width="1"/>
<rect x="1155" y="370" width="12" height="75" fill="#5a4430"/>
<path d="M1243 307 L1353 307 L1353 405 L1250 405 Q1238 380 1243 350 Z" fill="#8e8e94"/>
<rect x="1300" y="307" width="20" height="66" fill="#2a2a2e"/>
<rect x="1320" y="307" width="7" height="100" fill="#d8d0c0"/>
<rect x="1327" y="318" width="26" height="80" fill="#b6b6ba"/>
<rect x="1287" y="382" width="66" height="23" fill="#b09070"/>
<polygon points="1155,455 1300,410 1353,402 1353,505 1330,520 1300,570 1155,570" fill="#f07890"/>
<polygon points="1327,505 1353,490 1353,570 1300,570" fill="#9a9aa0"/>
<polygon points="1190,458 1300,422 1330,425 1353,445 1353,458 1240,512 1215,512" fill="#1a1414"/>
<polygon points="1230,440 1306,430 1302,486 1246,488" fill="#c8586a"/>
<path d="M1238 448 L1300 440 M1240 458 L1300 450 M1242 468 L1300 460 M1244 478 L1300 470" stroke="#6a2a34" stroke-width="1.5" fill="none"/>
<ellipse cx="1250" cy="412" rx="52" ry="48" fill="#ea5066"/>
<path d="M1212 395 Q1250 383 1297 400 M1208 410 Q1250 398 1300 416 M1212 425 Q1250 414 1300 432" stroke="#f6a0b0" stroke-width="1.5" fill="none"/>
<rect x="1215" y="455" width="35" height="30" fill="#1c3a2c"/>
<ellipse cx="1214" cy="436" rx="22" ry="27" fill="#e0202e"/>
<polygon points="1183,428 1210,420 1225,470 1195,478" fill="#f2aaa0"/>
<line x1="1290" y1="520" x2="1353" y2="560" stroke="#e08040" stroke-width="1"/>
</g>

<!-- ============ CONNECTORS ============ -->
<g fill="none" stroke-linecap="round" stroke-linejoin="round">
<line x1="240" y1="119" x2="295" y2="119" stroke="#1b5f7c" stroke-width="3"/>
<polyline points="286,110 297,119 286,128" stroke="#1b5f7c" stroke-width="3.5"/>
<line x1="608" y1="118" x2="673" y2="118" stroke="#1b5f7c" stroke-width="3"/>
<polyline points="665,109 675,118 665,127" stroke="#1b5f7c" stroke-width="3.5"/>
<line x1="942" y1="122" x2="1002" y2="122" stroke="#1f4f9c" stroke-width="3"/>
<polyline points="994,114 1004,122 994,130" stroke="#1f4f9c" stroke-width="3.5"/>
<polyline points="1288,121 1317,121 1317,274 169,274 169,318" stroke="#1f55a0" stroke-width="3" stroke-linecap="butt" stroke-linejoin="miter"/>
<polyline points="161,311 169,320 177,311" stroke="#1f55a0" stroke-width="3.5"/>
<line x1="312" y1="437" x2="363" y2="437" stroke="#1b5f7c" stroke-width="3"/>
<polyline points="355,428 365,437 355,446" stroke="#1b5f7c" stroke-width="3.5"/>
<line x1="725" y1="437" x2="781" y2="437" stroke="#1b5f7c" stroke-width="3"/>
<polyline points="773,428 783,437 773,446" stroke="#1b5f7c" stroke-width="3.5"/>
<line x1="1067" y1="437" x2="1151" y2="437" stroke="#1b5f7c" stroke-width="3"/>
<polyline points="1143,428 1153,437 1143,446" stroke="#1b5f7c" stroke-width="3.5"/>
</g>

<!-- ============ LABELS ============ -->
<g font-family="'Liberation Serif', serif" font-size="29" fill="#17365f">
<text x="81" y="242" textLength="150" lengthAdjust="spacingAndGlyphs">Planning CT</text>
<text x="354" y="252" textLength="242" lengthAdjust="spacingAndGlyphs">Treatment Planning</text>
<text x="669" y="252" textLength="247" lengthAdjust="spacingAndGlyphs">Positioning on Linac</text>
<text x="1016" y="252" textLength="272" lengthAdjust="spacingAndGlyphs">Surface image Capture</text>
<text x="74" y="584" textLength="207" lengthAdjust="spacingAndGlyphs">Registration with</text>
<text x="71" y="618" textLength="205" lengthAdjust="spacingAndGlyphs">reference surface</text>
<text x="452" y="584" textLength="210" lengthAdjust="spacingAndGlyphs">CBCT acquisition</text>
<text x="1163" y="611" textLength="186" lengthAdjust="spacingAndGlyphs">Dosimetry with</text>
<text x="1123" y="645" textLength="271" lengthAdjust="spacingAndGlyphs">Treatment monitoring</text>
</g>
</svg>
</body></html>
